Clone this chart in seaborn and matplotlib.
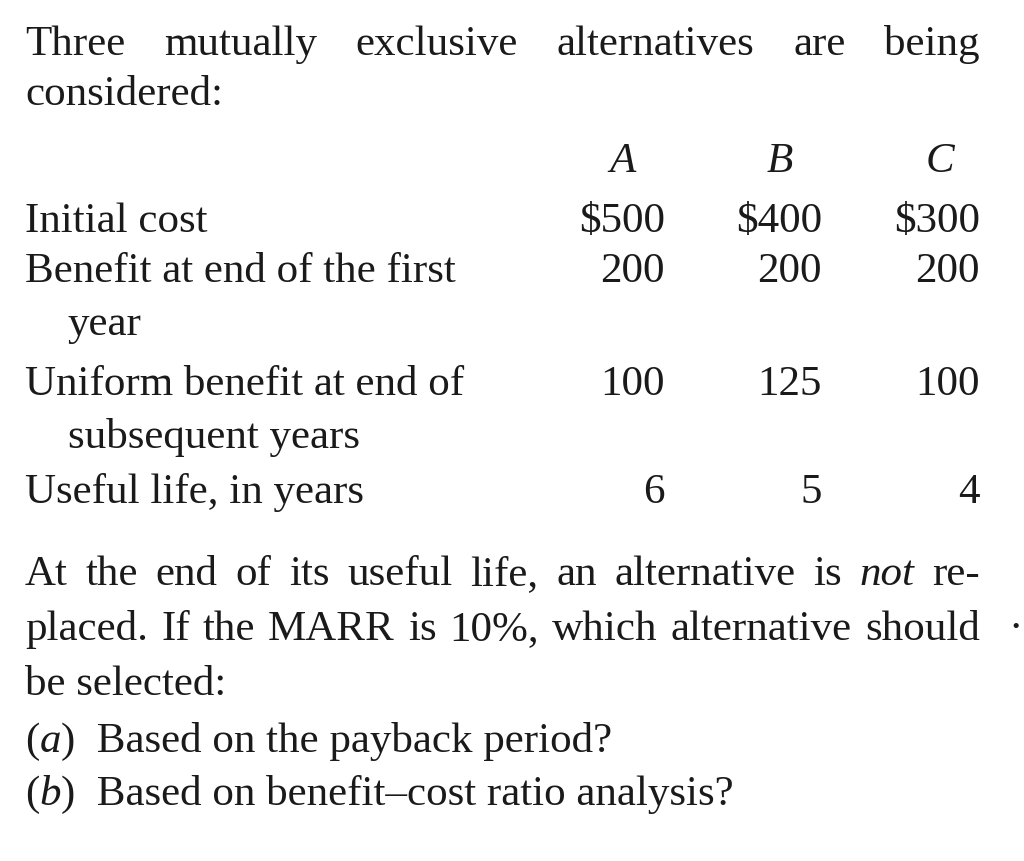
import matplotlib
matplotlib.use("Agg")
import matplotlib.pyplot as plt
import seaborn as sns

sns.set_theme(style="white")
plt.rcParams['font.family'] = ['Liberation Serif', 'DejaVu Serif']

columns = ["A", "B", "C"]
row_labels = [["Initial cost"], ["Benefit at end of the first", "year"],
              ["Uniform benefit at end of", "subsequent years"], ["Useful life, in years"]]
values = [["$500", "$400", "$300"], ["200", "200", "200"],
          ["100", "125", "100"], ["6", "5", "4"]]

fig = plt.figure(figsize=(10.24, 8.62), dpi=100)
ax = fig.add_axes([0, 0, 1, 1])
ax.set_xlim(0, 1024); ax.set_ylim(862, 0); ax.axis("off")
FS = 31
r = fig.canvas.get_renderer()
C = "#1a1a1a"

def width(t):
    return t.get_window_extent(renderer=r).width

def justify(words, y, x0=25, x1=980, italic=()):
    ts = [ax.text(0, y, w, fontsize=FS, va="baseline", color=C,
                  style="italic" if i in italic else "normal") for i, w in enumerate(words)]
    ws = [width(t) for t in ts]
    gap = (x1 - x0 - sum(ws)) / (len(words) - 1)
    x = x0
    for t, w in zip(ts, ws):
        t.set_x(x); x += w + gap

def line(s, y, x=25, **kw):
    return ax.text(x, y, s, fontsize=FS, va="baseline", color=C, **kw)

def seq(parts, y, x=25):
    for s, it in parts:
        t = line(s, y, x=x, style="italic" if it else "normal")
        x += width(t)

justify("Three mutually exclusive alternatives are being".split(), 55)
line("considered:", 105)
for c, xc in zip(columns, [622, 780, 940]):
    ax.text(xc, 172, c, fontsize=FS, style="italic", ha="center", va="baseline", color=C)
ys = [232, 282, 395, 503]
for lab, vals, y in zip(row_labels, values, ys):
    line(lab[0], y)
    if len(lab) > 1:
        line(lab[1], y + 53, x=68)
    for v, xr in zip(vals, [665, 822, 980]):
        ax.text(xr, y, v, fontsize=FS, ha="right", va="baseline", color=C)
justify(["At", "the", "end", "of", "its", "useful", "life,", "an", "alternative", "is", "not", "re-"],
        585, italic=(10,))
justify("placed. If the MARR is 10%, which alternative should".split(), 640)
ax.text(1008, 640, "·", fontsize=FS, va="baseline", color=C)
line("be selected:", 695)
seq([("(", False), ("a", True), (")  Based on the payback period?", False)], 752)
seq([("(", False), ("b", True), (")  Based on benefit–cost ratio analysis?", False)], 805)
fig.savefig("out.png", dpi=100)
